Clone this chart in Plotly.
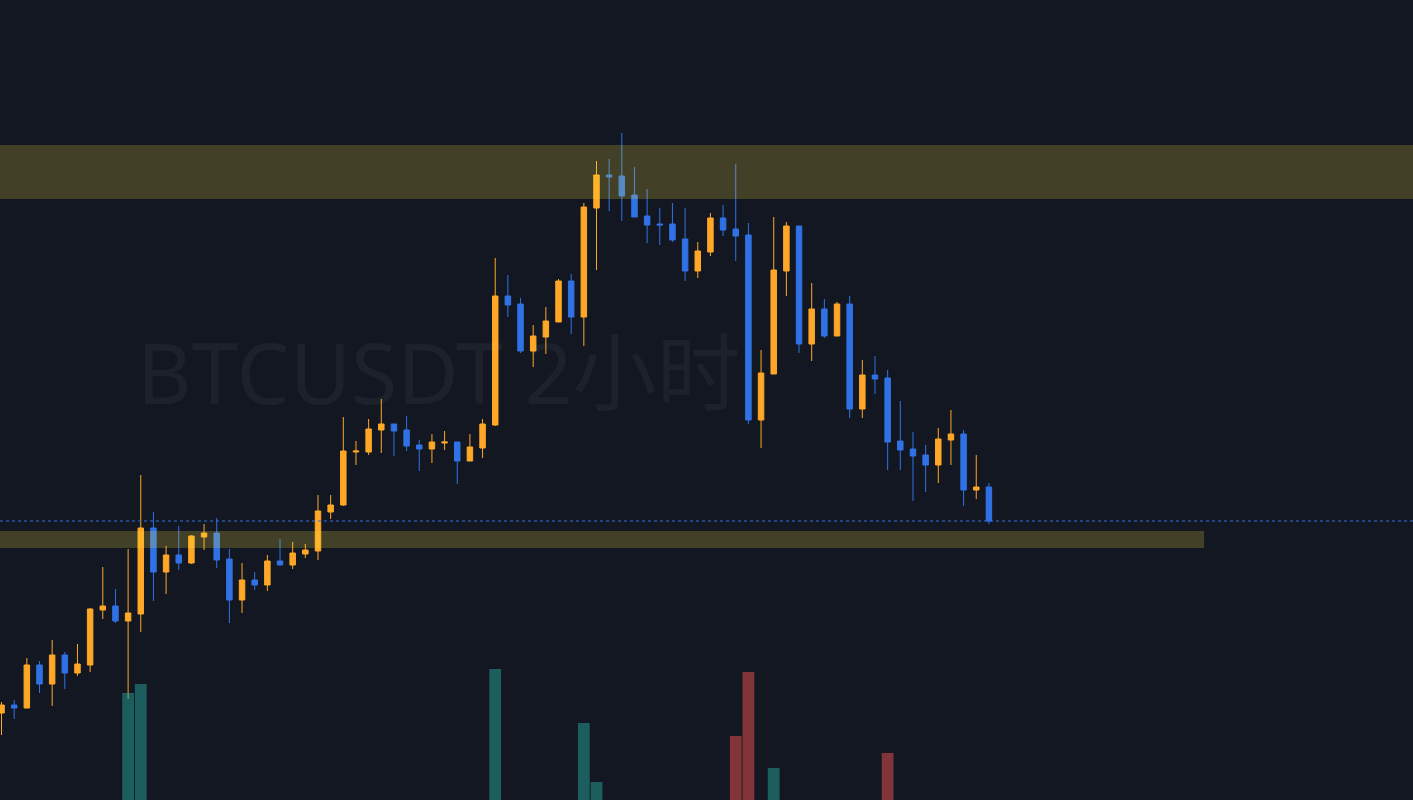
import pandas as pd
import plotly.graph_objects as go
from datetime import timedelta

# BTCUSDT 2h candles (prices)
opens = [67870, 67950, 67920, 68350, 68160, 68450, 68270, 68350, 68900, 68940,
         68790, 68860, 69720, 69280, 69450, 69370, 69630, 69670, 69410, 69000,
         69200, 69150, 69390, 69350, 69460, 69490, 69880, 69950, 70480, 70480,
         70700, 70760, 70700, 70550, 70510, 70570, 70580, 70390, 70520, 70750,
         72040, 71960, 71490, 71630, 71780, 72190, 71830, 72920, 73250, 73240,
         73050, 72840, 72760, 72760, 72610, 72290, 72480, 72820, 72710, 72650,
         70800, 71260, 72290, 72740, 71560, 71910, 71640, 71960, 70910, 71250,
         71220, 70590, 70510, 70450, 70350, 70600, 70660, 70100, 70130]
highs = [67980, 68000, 68420, 68390, 68600, 68480, 68560, 68920, 69330, 69110,
         69510, 70250, 69880, 69540, 69740, 69650, 69760, 69820, 69510, 69370,
         69280, 69450, 69610, 69580, 69560, 70050, 70050, 70830, 70590, 70810,
         71010, 70760, 70840, 70600, 70660, 70690, 70580, 70660, 70810, 72420,
         72250, 72020, 71750, 71930, 72210, 72260, 72970, 73390, 73410, 73670,
         73330, 73110, 72920, 72970, 72920, 72580, 72870, 72950, 73360, 72770,
         71500, 72830, 72780, 72740, 72170, 72010, 71980, 72040, 71400, 71440,
         71300, 70990, 70680, 70550, 70720, 70900, 70700, 70450, 70170]
lows = [67650, 67810, 67920, 68070, 67940, 68110, 68240, 68280, 68810, 68770,
        68010, 68680, 68990, 69060, 69300, 69360, 69500, 69320, 68770, 68870,
        69100, 69090, 69350, 69310, 69420, 69400, 69810, 69940, 70350, 70450,
        70470, 70440, 70490, 70290, 70370, 70500, 70160, 70390, 70420, 70740,
        71830, 71470, 71330, 71460, 71780, 71660, 71540, 72300, 72890, 72790,
        72830, 72570, 72550, 72580, 72190, 72220, 72440, 72640, 72390, 70760,
        70520, 71260, 72040, 71470, 71390, 71620, 71640, 70820, 70820, 71060,
        70300, 70300, 69990, 70080, 70170, 70350, 69940, 70010, 69760]
closes = [67950, 67920, 68350, 68160, 68450, 68270, 68360, 68910, 68940, 68790,
          68870, 69720, 69280, 69450, 69370, 69640, 69670, 69400, 69000, 69200,
          69150, 69390, 69350, 69470, 69500, 69890, 69950, 70490, 70490, 70710,
          70760, 70690, 70540, 70510, 70580, 70580, 70390, 70530, 70760, 72040,
          71950, 71490, 71640, 71790, 72190, 71830, 72930, 73250, 73230, 73040,
          72830, 72750, 72750, 72600, 72290, 72490, 72820, 72700, 72640, 70800,
          71270, 72300, 72740, 71560, 71910, 71640, 71960, 70910, 71250, 71210,
          70580, 70500, 70440, 70350, 70610, 70660, 70100, 70130, 69790]

# volume: only the tall bars that show in the bottom of the pane
volume_idx = [10, 11, 39, 46, 47, 58, 59, 61, 70]
volume_val = [2140, 2320, 2620, 1540, 360, 1280, 2560, 640, 940]

# supply / demand zones: low, high, last bar index (None = open to the right)
zone_low = [73010, 69520]
zone_high = [73550, 69690]
zone_end = [None, 95]

WATERMARK = "BTCUSDT 2小时"
UP, DOWN = "#ffa726", "#3072e6"
BG = "#131722"

t0 = pd.Timestamp("2024-03-08 06:00")
step = timedelta(hours=2)
times = [t0 + i * step for i in range(len(opens))]

vols = [None] * len(opens)
for i, v in zip(volume_idx, volume_val):
    vols[i] = v
vol_colors = ["rgba(38,166,154,0.5)" if c >= o else "rgba(239,83,80,0.5)"
              for o, c in zip(opens, closes)]

fig = go.Figure()

fig.add_trace(go.Bar(
    x=times, y=vols, yaxis="y2",
    marker=dict(color=vol_colors, line=dict(width=0)),
    width=0.93 * step.total_seconds() * 1000,
    hoverinfo="skip", showlegend=False,
))

fig.add_trace(go.Candlestick(
    x=times, open=opens, high=highs, low=lows, close=closes,
    increasing=dict(line=dict(color=UP, width=1), fillcolor=UP),
    decreasing=dict(line=dict(color=DOWN, width=1), fillcolor=DOWN),
    whiskerwidth=0, showlegend=False,
))

# zones drawn over the candles
x_left = t0 - step * 0.12
x_right = t0 + step * 111.5
for lo, hi, end in zip(zone_low, zone_high, zone_end):
    fig.add_shape(type="rect", xref="x", yref="y",
                  x0=x_left, x1=x_right if end is None else t0 + end * step,
                  y0=lo, y1=hi, fillcolor="rgba(255,235,59,0.2)",
                  line=dict(width=0), layer="above")

# last price line
fig.add_shape(type="line", xref="paper", yref="y", x0=0, x1=1,
              y0=closes[-1], y1=closes[-1],
              line=dict(color=DOWN, width=1, dash="dot"))

fig.add_annotation(text=WATERMARK, xref="paper", yref="paper",
                   x=0.311, y=0.536, xanchor="center", yanchor="middle",
                   showarrow=False,
                   font=dict(family="Noto Sans, Noto Sans CJK SC", size=84,
                             color="rgba(255,255,255,0.045)"))

fig.update_xaxes(range=[x_left, x_right], visible=False,
                 rangeslider=dict(visible=False), showgrid=False)
fig.update_layout(
    width=1413, height=800,
    margin=dict(l=0, r=0, t=0, b=0),
    paper_bgcolor=BG, plot_bgcolor=BG,
    boxgap=0.38,
    yaxis=dict(range=[67000, 75000], visible=False, showgrid=False),
    yaxis2=dict(range=[0, 16000], overlaying="y", visible=False,
                showgrid=False),
    showlegend=False,
)

fig.write_html("out.html", config={"displayModeBar": False},
               post_script="document.body.style.margin='0';")
